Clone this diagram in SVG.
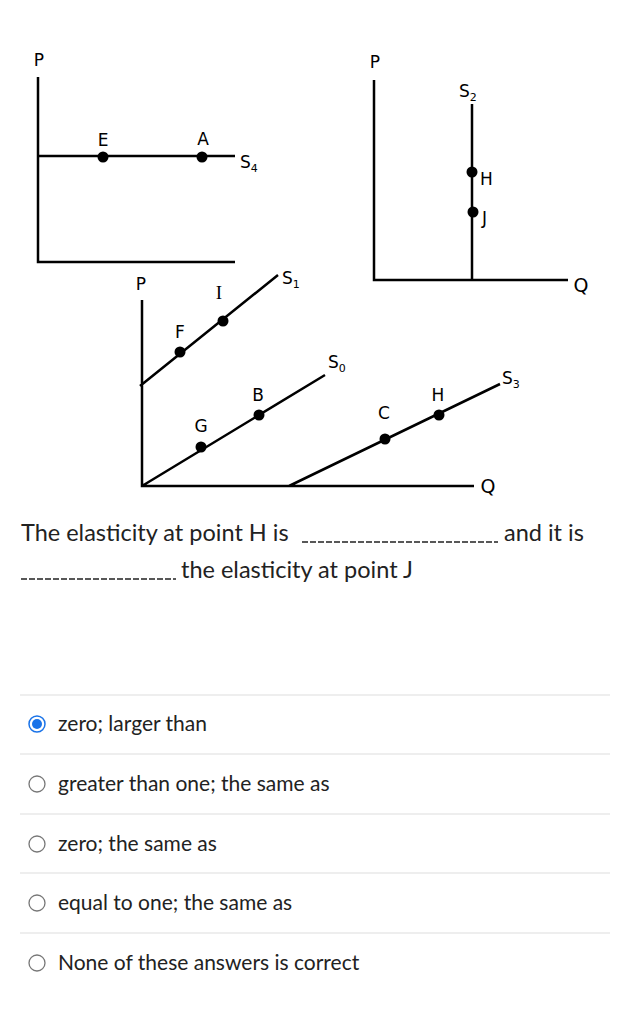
<svg xmlns="http://www.w3.org/2000/svg" width="626" height="1012" viewBox="0 0 626 1012">
<style>
.ax{stroke:#000;stroke-width:2.5;fill:none}
.l{font-family:"DejaVu Sans",sans-serif;font-size:17px;fill:#000}
.s{font-family:"DejaVu Sans",sans-serif;font-size:11px;fill:#000}
.t{font-family:Lato,"Liberation Sans",sans-serif;font-size:23.5px;fill:#222}
.o{font-family:Lato,"Liberation Sans",sans-serif;font-size:21px;fill:#222}
.sep{stroke:#ddd;stroke-width:1}
.r{fill:#fff;stroke:#777;stroke-width:1.3}
</style>
<rect width="626" height="1012" fill="#fff"/>
<g id="chart1">
<path class="ax" d="M38 77V262H235M38 156H235"/>
<circle cx="103" cy="157" r="5.5"/><circle cx="202" cy="157" r="5.5"/>
<text class="l" x="39" y="66" text-anchor="middle">P</text>
<text class="l" x="103" y="146" text-anchor="middle">E</text>
<text class="l" x="203" y="145" text-anchor="middle">A</text>
<text class="l" x="240" y="168">S<tspan class="s" dy="4">4</tspan></text>
</g>
<g id="chart2">
<path class="ax" d="M374 80V280H568M472 104V280"/>
<circle cx="472" cy="172" r="5.5"/><circle cx="473" cy="212" r="5.5"/>
<text class="l" x="375" y="68" text-anchor="middle">P</text>
<text class="l" x="459" y="97">S<tspan class="s" dy="4">2</tspan></text>
<text class="l" x="480" y="185">H</text>
<text class="l" x="482" y="224">J</text>
<text class="l" x="581" y="292" text-anchor="middle" style="font-size:19px">Q</text>
</g>
<g id="chart3">
<path class="ax" d="M142 300V486H474M140 386L278 275M142 486L325 375M289 486L500 384"/>
<circle cx="180" cy="352" r="5.5"/><circle cx="223" cy="321" r="5.5"/>
<circle cx="201" cy="447" r="5.5"/><circle cx="259" cy="415" r="5.5"/>
<circle cx="385" cy="439" r="5.5"/><circle cx="439" cy="415" r="5.5"/>
<text class="l" x="141" y="290" text-anchor="middle">P</text>
<text class="l" x="219" y="299" text-anchor="middle" style="font-family:'Liberation Serif',serif;font-size:19px">I</text>
<text class="l" x="180" y="338" text-anchor="middle">F</text>
<text class="l" x="282" y="284">S<tspan class="s" dy="4">1</tspan></text>
<text class="l" x="201" y="432" text-anchor="middle">G</text>
<text class="l" x="258" y="401" text-anchor="middle">B</text>
<text class="l" x="328" y="368">S<tspan class="s" dy="4">0</tspan></text>
<text class="l" x="384" y="419" text-anchor="middle">C</text>
<text class="l" x="438" y="401" text-anchor="middle">H</text>
<text class="l" x="502" y="384">S<tspan class="s" dy="4">3</tspan></text>
<text class="l" x="488" y="493" text-anchor="middle" style="font-size:19px">Q</text>
</g>
<g id="question">
<text class="t" x="21" y="541">The elasticity at point H is</text>
<path d="M302 542H498M21 579H176" stroke="#222" stroke-width="1.3" stroke-dasharray="6,2"/>
<text class="t" x="504" y="541">and it is</text>
<text class="t" x="181" y="578">the elasticity at point J</text>
</g>
<g id="options">
<path class="sep" d="M20 695H610M20 754H610M20 814H610M20 873H610M20 933H610"/>
<circle cx="37" cy="724" r="8" fill="#fff" stroke="#1a73e8" stroke-width="1.5"/><circle cx="37" cy="724" r="5" fill="#1a73e8"/>
<circle class="r" cx="37" cy="784" r="8"/>
<circle class="r" cx="37" cy="844" r="8"/>
<circle class="r" cx="37" cy="903" r="8"/>
<circle class="r" cx="37" cy="963" r="8"/>
<text class="o" x="58" y="731">zero; larger than</text>
<text class="o" x="58" y="791">greater than one; the same as</text>
<text class="o" x="58" y="851">zero; the same as</text>
<text class="o" x="58" y="910">equal to one; the same as</text>
<text class="o" x="58" y="970">None of these answers is correct</text>
</g>
</svg>
